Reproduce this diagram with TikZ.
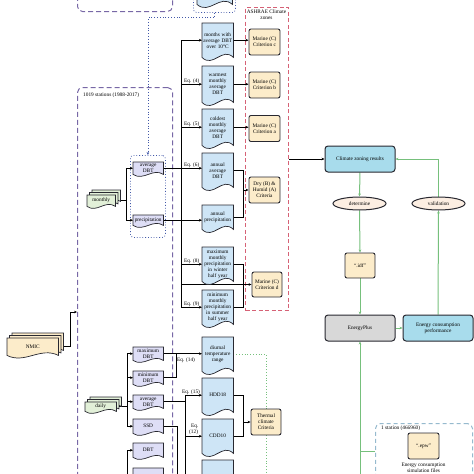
\documentclass[tikz,border=0pt]{standalone}
\usepackage{fontspec}
\setmainfont{Liberation Serif}
\usetikzlibrary{shapes.geometric,calc,arrows.meta}
\pgfdeclarelayer{grp}
\pgfdeclarelayer{lines}
\pgfdeclarelayer{docs}
\pgfsetlayers{grp,lines,docs,main}

\definecolor{bluedoc}{RGB}{206,229,246}
\definecolor{lavdoc}{RGB}{222,222,246}
\definecolor{grndoc}{RGB}{226,240,216}
\definecolor{yelfill}{RGB}{252,236,202}
\definecolor{cyanfill}{RGB}{168,220,236}
\definecolor{greyfill}{RGB}{216,216,216}
\definecolor{ellfill}{RGB}{252,238,226}
\definecolor{purpl}{RGB}{120,104,166}
\definecolor{redd}{RGB}{214,98,118}
\definecolor{bluedot}{RGB}{66,88,168}
\definecolor{tealdash}{RGB}{150,186,206}
\definecolor{grn}{RGB}{118,192,124}
\definecolor{edge}{RGB}{40,40,48}

% #1 node, #2 fill, #3 wave control, #4 offset
\newcommand\docshape[4]{%
  \path[fill=#2,draw=edge,line width=0.7pt]
   ($(#1.north west)+#4$) -- ($(#1.north east)+#4$) -- ($(#1.south east)+#4$)
   .. controls ($(#1.south east)!0.35!(#1.south west)+#4+(0,-#3)$)
   and ($(#1.south east)!0.65!(#1.south west)+#4+(0,#3)$)
   .. ($(#1.south west)+#4$) -- cycle;}

\tikzset{
  txt/.style={font=\fontsize{5.3}{6}\selectfont},
  docn/.style={txt,anchor=north west,inner sep=0pt,align=center},
  bd/.style={docn,minimum width=31pt,text width=30pt},
  ld/.style={docn,minimum width=30pt,text width=30pt},
  crit/.style={txt,draw=edge,line width=0.9pt,rounded corners=2pt,fill=yelfill,align=center,inner sep=0pt,minimum width=31pt,minimum height=26pt},
  bigbox/.style={txt,draw=edge,line width=1pt,rounded corners=3pt,align=center,inner sep=0pt,minimum width=70pt,minimum height=26pt},
  ell/.style={ellipse,txt,draw=edge,line width=1pt,fill=ellfill,inner sep=0pt,minimum width=53pt,minimum height=13pt},
  arr/.style={-{Stealth[length=3pt,width=2.6pt]}},
  ln/.style={line width=0.8pt,black},
  gln/.style={line width=1pt,grn},
  gdot/.style={line width=0.8pt,grn,dotted},
  bdot/.style={line width=0.8pt,bluedot,dotted},
  grpp/.style={draw=purpl,dash pattern=on 5pt off 3pt,line width=1pt,rounded corners=5pt,anchor=north west,inner sep=0pt},
  grpr/.style={draw=redd,dash pattern=on 4pt off 2.5pt,line width=1pt,anchor=north west,inner sep=0pt},
  grpb/.style={draw=bluedot,dotted,line width=0.8pt,rounded corners=3pt,anchor=north west,inner sep=0pt},
  grpt/.style={draw=tealdash,dash pattern=on 4pt off 3pt,line width=1pt,rounded corners=5pt,anchor=north west,inner sep=0pt},
  eqt/.style={txt,anchor=base west,inner sep=0pt}
}

\begin{document}
\begin{tikzpicture}[x=1pt,y=-1pt]
\useasboundingbox (0,0) rectangle (474,474);

% group boxes
\begin{pgfonlayer}{grp}
\node[grpp,minimum width=95pt,minimum height=80pt] (topgrp) at (77,-69) {};
\node[grpb,minimum width=42pt,minimum height=40pt] (topbox) at (193,-28) {};
\node[grpp,minimum width=95pt,minimum height=420pt] (stn) at (77,87) {};
\node[grpr,minimum width=43pt,minimum height=303pt] (ashrae) at (245,7) {};
\node[grpb,minimum width=35pt,minimum height=82pt] (mbox) at (130,155) {};
\node[grpt,minimum width=97pt,minimum height=80pt] (sta) at (375,423) {};
\end{pgfonlayer}

% labels
\node[txt,anchor=west,inner sep=0pt] (stnlbl) at (83,95) {1019 stations (1988-2017)};
\node[txt,anchor=north,align=center,inner sep=0pt] (ashlbl) at (266.5,10) {ASHRAE Climate\\zones};
\node[txt,anchor=west,inner sep=0pt] (stalbl) at (381,428) {1 station (466960)};

% blue documents
\node[bd,minimum width=35pt,text width=34pt,minimum height=24pt] (d0) at (197,-20) {};
\node[bd,minimum height=34pt] (d1) at (202,23) {months with\\average DBT\\over 10°C};
\node[bd,minimum height=36pt] (d2) at (202,66) {warmest\\monthly\\average\\DBT};
\node[bd,minimum height=36pt] (d3) at (202,109) {coldest\\monthly\\average\\DBT};
\node[bd,minimum height=34pt] (d4) at (202,153) {annual\\average\\DBT};
\node[bd,minimum height=24pt] (d5) at (202,205) {annual\\precipitation};
\node[bd,minimum height=34pt] (d6) at (202,247) {maximum\\monthly\\precipitation\\in winter\\half year};
\node[bd,minimum height=34pt] (d7) at (202,290) {minimum\\monthly\\precipitation\\in summer\\half year};
\node[bd,minimum height=34pt] (d8) at (202,337) {diurnal\\temperature\\range};
\node[bd,minimum height=34pt] (d9) at (202,378) {HDD18};
\node[bd,minimum height=34pt] (d10) at (202,419) {CDD10};
\node[bd,minimum height=34pt] (d11) at (202,460) {};

% lavender documents
\node[ld,minimum height=12pt] (ma) at (133,162) {average\\DBT};
\node[ld,minimum height=10pt] (mp) at (133,215) {precipitation};
\node[ld,minimum height=13pt] (maxd) at (133,347) {maximum\\DBT};
\node[ld,minimum height=13pt] (mind) at (133,371) {minimum\\DBT};
\node[ld,minimum height=13pt] (avgd) at (133,395) {average\\DBT};
\node[ld,minimum height=14pt] (ssd) at (133,419) {SSD};
\node[ld,minimum height=14pt] (dbt) at (133,443) {DBT};
\node[ld,minimum height=14pt] (ld7) at (133,468) {};

% stacks
\node[docn,minimum width=28pt,text width=28pt,minimum height=11pt] (monthly) at (87,195) {monthly};
\node[docn,minimum width=31pt,text width=31pt,minimum height=9pt] (daily) at (85,402) {daily};
\node[docn,minimum width=51pt,text width=51pt,minimum height=17pt] (nmic) at (7,338) {NMIC};

% criteria
\node[crit] (critc) at (264.5,42) {Marine (C)\\Criterion c};
\node[crit] (critb) at (264.5,85) {Marine (C)\\Criterion b};
\node[crit] (crita) at (264.5,128.5) {Marine (C)\\Criterion a};
\node[crit] (critdh) at (264.5,190) {Dry (B) \&\\Humid (A)\\Criteria};
\node[crit,minimum width=30pt,minimum height=25pt] (critd) at (267,284.5) {Marine (C)\\Criterion d};
\node[crit,minimum width=30pt] (therm) at (266,422) {Thermal\\climate\\Criteria};

% right side
\node[bigbox,fill=cyanfill] (czr) at (360,159) {Climate zoning results};
\node[ell] (det) at (359.5,203.5) {determine};
\node[ell] (val) at (438.5,203.5) {validation};
\node[crit,minimum width=30pt,minimum height=25pt] (idf) at (360,265.5) {“.idf”};
\node[bigbox,fill=greyfill] (eplus) at (360,328) {EnergyPlus};
\node[bigbox,fill=cyanfill] (ecp) at (438,328) {Energy consumption\\performance};
\node[crit] (epw) at (423.5,446) {“.epw”};
\node[txt,anchor=north,align=center,inner sep=0pt] (ecsf) at (423.5,463) {Energy consumption\\simulation files};

% equation labels
\node[eqt] (e4) at (184,82) {Eq. (4)};
\node[eqt] (e5) at (184,125) {Eq. (5)};
\node[eqt] (e6) at (184,166) {Eq. (6)};
\node[eqt] (e8) at (184,262) {Eq. (8)};
\node[eqt] (e9) at (184,305) {Eq. (9)};
\node[eqt] (e14) at (177,361) {Eq. (14)};
\node[eqt] (e15) at (182,393) {Eq. (15)};
\node[eqt] (e12a) at (191,427) {Eq.};
\node[eqt] (e12b) at (189,433) {(12)};

% document outlines
\begin{pgfonlayer}{docs}
\foreach \n in {d0,d1,d2,d3,d4,d5,d6,d7,d8,d9,d10,d11} {\docshape{\n}{bluedoc}{11}{(0,0)}}
\foreach \n in {ma,mp,maxd,mind,avgd,ssd,dbt,ld7} {\docshape{\n}{lavdoc}{7}{(0,0)}}
\foreach \n in {monthly,daily} {
  \docshape{\n}{grndoc}{7}{(5,-5)}
  \docshape{\n}{grndoc}{7}{(2.5,-2.5)}
  \docshape{\n}{grndoc}{7}{(0,0)}}
\docshape{nmic}{yelfill}{9}{(5,-5)}
\docshape{nmic}{yelfill}{9}{(2.5,-2.5)}
\docshape{nmic}{yelfill}{9}{(0,0)}
\end{pgfonlayer}

% connectors
\begin{pgfonlayer}{lines}
\coordinate (bx) at (181,0);
\coordinate (jx) at (243,0);
\coordinate (mj) at (126,0);
\coordinate (dj) at (127,0);
\coordinate (j14) at (176,0);
\coordinate (bx2) at (185,0);
\coordinate (sx) at (177,0);
\coordinate (nj) at (70,0);
\coordinate (nin) at (77,312);
\coordinate (bottom) at (0,485);
\coordinate (sj) at (375,451);

\draw[ln] (d1.west -| bx) -- (d7.west -| bx);
\foreach \n in {d1,d2,d3,d6,d7} {\draw[ln,arr] (\n.west -| bx) -- (\n.west);}
\draw[ln,arr] (critd.west -| bx) -- (critd.west);
\draw[ln,arr] (ma.east) -- (ma.east -| d4.west);
\draw[ln,arr] (mp.east) -- (mp.east -| d5.west);
\draw[ln,arr] (d1.east) -- (d1.east -| critc.west);
\draw[ln,arr] (d2.east) -- (d2.east -| critb.west);
\draw[ln,arr] (d3.east) -- (d3.east -| crita.west);
\draw[ln] (d4.east) -| (jx |- critdh.west);
\draw[ln] (d5.east) -| (jx |- critdh.west);
\draw[ln,arr] (jx |- critdh.west) -- (critdh.west);
\draw[ln] (d6.east) -| (jx |- critd.west);
\draw[ln] (d7.east) -| (jx |- critd.west);
\draw[ln] (d9.east) -| (jx |- therm.west);
\draw[ln] (d10.east) -| (jx |- therm.west);
\draw[ln,arr] (jx |- therm.west) -- (therm.west);
\draw[gdot] (d8.east) -| (therm.north);
\draw[gdot] (therm.south) -- (therm.south |- bottom);

\draw[ln] (monthly.east) -- (monthly.east -| mj);
\draw[ln] (ma.west -| mj) -- (mp.west -| mj);
\draw[ln,arr] (ma.west -| mj) -- (ma.west);
\draw[ln,arr] (mp.west -| mj) -- (mp.west);

\draw[ln] (daily.east) -- (daily.east -| dj);
\draw[ln] (maxd.west -| dj) -- (ssd.west -| dj);
\foreach \n in {maxd,mind,avgd,ssd} {\draw[ln,arr] (\n.west -| dj) -- (\n.west);}
\draw[ln,arr] (dj |- bottom) |- (dbt.west);
\draw[ln,arr] (maxd.east) -- (maxd.east -| d8.west);
\draw[ln] (mind.east) -| (j14 |- maxd.east);
\draw[ln] (avgd.east) -| (bx2 |- d9.west);
\draw[ln] (bx2 |- d9.west) -- (bx2 |- bottom);
\draw[ln,arr] (bx2 |- d9.west) -- (d9.west);
\draw[ln,arr] (bx2 |- d10.west) -- (d10.west);
\draw[ln] (ssd.east) -| (sx |- bottom);

\draw[ln,arr] (nmic.east) -| (nj |- nin) -- (nin);
\draw[ln,arr] (czr.west -| ashrae.east) -- (czr.west);
\draw[bdot,arr] (topbox.south) -- ++(0,5) -| (mbox.north);

\draw[gln,arr] (czr.south) -- (det.north);
\draw[gln,arr] (det.south) -- (idf.north);
\draw[gln,arr] (idf.south) -- (eplus.north);
\draw[gln,arr] (eplus.east) -- (ecp.west);
\draw[gln,arr] (ecp.north) -- (val.south);
\draw[gln,arr] (val.north) |- (czr.east);
\draw[gln,arr] (eplus.south |- bottom) -- (eplus.south);
\draw[gln] (eplus.south |- sj) -- (sj);
\end{pgfonlayer}
\end{tikzpicture}
\end{document}
